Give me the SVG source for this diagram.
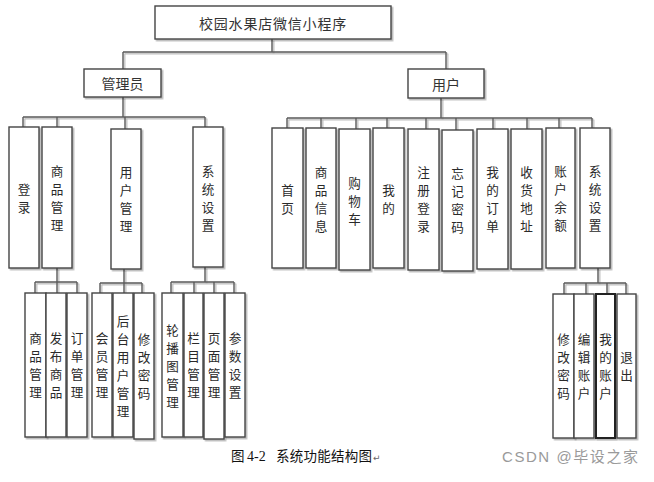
<svg xmlns="http://www.w3.org/2000/svg" width="654" height="482" viewBox="0 0 654 482">
<defs>
<filter id="sh" x="-20%" y="-20%" width="140%" height="140%">
<feDropShadow dx="1.6" dy="1.6" stdDeviation="0.6" flood-color="#000" flood-opacity="0.28"/>
</filter>
</defs>
<style>
.b{fill:#fff;stroke:#444;stroke-width:1.4;filter:url(#sh)}
.bd{fill:#fff;stroke:#222;stroke-width:2;filter:url(#sh)}
.t{font-family:"Noto Sans CJK SC","Noto Sans CJK JP",sans-serif;font-size:14px;fill:#333;text-anchor:middle;dominant-baseline:central}
.v{font-family:"Noto Sans CJK SC","Noto Sans CJK JP",sans-serif;font-size:12.6px;fill:#2a2a2a;text-anchor:middle;dominant-baseline:central}
#conn path{fill:none;stroke:#5a5a5a;stroke-width:1.4}
</style>
<rect width="654" height="482" fill="#fff"/>
<g id="conn" filter="url(#sh)">
<path d="M272 39V52M123 52H446M123 52V69M446 52V69"/>
<path d="M123 97V117M23 117H205M23 117V127M57 117V127M125 117V129M205 117V127"/>
<path d="M441 98V118M287 118H592M287 118V128M321 118V128M356 118V129M387 118V128M426 118V129M456 118V130M493 118V129M527 118V129M559 118V128M592 118V128"/>
<path d="M57 268V282M35 282H77M35 282V293M57 282V293M77 282V293"/>
<path d="M124 269V283M100 283H142M100 283V293M124 283V293M142 283V293"/>
<path d="M205 267V282M171 282H234M171 282V293M194 282V293M214 282V293M234 282V293"/>
<path d="M598 268V283M564 283H626M564 283V294M586 283V294M607 283V294M626 283V294"/>
</g>
<g id="root"><rect class="b" x="155" y="6" width="236" height="33"/><text class="t" x="273" y="22.5" letter-spacing="0.8">校园水果店微信小程序</text></g>
<g id="admin"><rect class="b" x="84" y="69" width="77" height="28"/><text class="t" x="122.5" y="83">管理员</text></g>
<g id="user"><rect class="b" x="408" y="69" width="76" height="29"/><text class="t" x="446" y="83.5">用户</text></g>

<g id="a-login"><rect class="b" x="9" y="127" width="30" height="141"/><text class="v"><tspan x="24" y="188.25">登</tspan><tspan x="24" y="206.25">录</tspan></text></g>
<g id="a-goods"><rect class="b" x="42" y="127" width="30" height="141"/><text class="v"><tspan x="57" y="170.25">商</tspan><tspan x="57" y="188.25">品</tspan><tspan x="57" y="206.25">管</tspan><tspan x="57" y="224.25">理</tspan></text></g>
<g id="a-users"><rect class="b" x="111" y="129" width="30" height="140"/><text class="v"><tspan x="126" y="171.25">用</tspan><tspan x="126" y="189.25">户</tspan><tspan x="126" y="207.25">管</tspan><tspan x="126" y="225.25">理</tspan></text></g>
<g id="a-sys"><rect class="b" x="193" y="127" width="30" height="140"/><text class="v"><tspan x="208" y="170.25">系</tspan><tspan x="208" y="188.25">统</tspan><tspan x="208" y="206.25">设</tspan><tspan x="208" y="224.25">置</tspan></text></g>

<g id="u-home"><rect class="b" x="272" y="128" width="31" height="140"/><text class="v"><tspan x="287.5" y="188.75">首</tspan><tspan x="287.5" y="206.75">页</tspan></text></g>
<g id="u-goods"><rect class="b" x="306" y="128" width="30" height="140"/><text class="v"><tspan x="321" y="171.25">商</tspan><tspan x="321" y="189.25">品</tspan><tspan x="321" y="207.25">信</tspan><tspan x="321" y="225.25">息</tspan></text></g>
<g id="u-cart"><rect class="b" x="339" y="129" width="31" height="141"/><text class="v"><tspan x="354.5" y="181.5">购</tspan><tspan x="354.5" y="199.5">物</tspan><tspan x="354.5" y="217.5">车</tspan></text></g>
<g id="u-mine"><rect class="b" x="373" y="128" width="31" height="140"/><text class="v"><tspan x="388.5" y="188.75">我</tspan><tspan x="388.5" y="206.75">的</tspan></text></g>
<g id="u-reg"><rect class="b" x="408" y="129" width="31" height="141"/><text class="v"><tspan x="423.5" y="171.25">注</tspan><tspan x="423.5" y="189.25">册</tspan><tspan x="423.5" y="207.25">登</tspan><tspan x="423.5" y="225.25">录</tspan></text></g>
<g id="u-forget"><rect class="b" x="442" y="130" width="31" height="141"/><text class="v"><tspan x="457.5" y="172.25">忘</tspan><tspan x="457.5" y="190.25">记</tspan><tspan x="457.5" y="208.25">密</tspan><tspan x="457.5" y="226.25">码</tspan></text></g>
<g id="u-orders"><rect class="b" x="477" y="129" width="31" height="140"/><text class="v"><tspan x="492.5" y="171.25">我</tspan><tspan x="492.5" y="189.25">的</tspan><tspan x="492.5" y="207.25">订</tspan><tspan x="492.5" y="225.25">单</tspan></text></g>
<g id="u-addr"><rect class="b" x="511" y="129" width="31" height="140"/><text class="v"><tspan x="526.5" y="171.25">收</tspan><tspan x="526.5" y="189.25">货</tspan><tspan x="526.5" y="207.25">地</tspan><tspan x="526.5" y="225.25">址</tspan></text></g>
<g id="u-balance"><rect class="b" x="546" y="128" width="29" height="140"/><text class="v"><tspan x="560.5" y="170.25">账</tspan><tspan x="560.5" y="188.25">户</tspan><tspan x="560.5" y="206.25">余</tspan><tspan x="560.5" y="224.25">额</tspan></text></g>
<g id="u-sys"><rect class="b" x="580" y="128" width="30" height="140"/><text class="v"><tspan x="595" y="170.25">系</tspan><tspan x="595" y="188.25">统</tspan><tspan x="595" y="206.25">设</tspan><tspan x="595" y="224.25">置</tspan></text></g>

<g id="g-manage"><rect class="b" x="25" y="293" width="21" height="144"/><text class="v"><tspan x="35.5" y="337.25">商</tspan><tspan x="35.5" y="355.25">品</tspan><tspan x="35.5" y="373.25">管</tspan><tspan x="35.5" y="391.25">理</tspan></text></g>
<g id="g-publish"><rect class="b" x="46" y="293" width="20" height="144"/><text class="v"><tspan x="56" y="337.25">发</tspan><tspan x="56" y="355.25">布</tspan><tspan x="56" y="373.25">商</tspan><tspan x="56" y="391.25">品</tspan></text></g>
<g id="g-order"><rect class="b" x="67" y="293" width="20" height="144"/><text class="v"><tspan x="77" y="337.25">订</tspan><tspan x="77" y="355.25">单</tspan><tspan x="77" y="373.25">管</tspan><tspan x="77" y="391.25">理</tspan></text></g>

<g id="m-member"><rect class="b" x="92" y="293" width="20" height="144"/><text class="v"><tspan x="102" y="337.25">会</tspan><tspan x="102" y="355.25">员</tspan><tspan x="102" y="373.25">管</tspan><tspan x="102" y="391.25">理</tspan></text></g>
<g id="m-admin"><rect class="b" x="113" y="293" width="20" height="144"/><text class="v"><tspan x="123" y="319.75">后</tspan><tspan x="123" y="337.75">台</tspan><tspan x="123" y="355.75">用</tspan><tspan x="123" y="373.75">户</tspan><tspan x="123" y="391.75">管</tspan><tspan x="123" y="409.75">理</tspan></text></g>
<g id="m-pwd"><rect class="b" x="134" y="293" width="20" height="146"/><text class="v"><tspan x="144" y="338.25">修</tspan><tspan x="144" y="356.25">改</tspan><tspan x="144" y="374.25">密</tspan><tspan x="144" y="392.25">码</tspan></text></g>

<g id="s-banner"><rect class="b" x="162" y="293" width="21" height="144"/><text class="v"><tspan x="172.5" y="329">轮</tspan><tspan x="172.5" y="347">播</tspan><tspan x="172.5" y="365">图</tspan><tspan x="172.5" y="383">管</tspan><tspan x="172.5" y="401">理</tspan></text></g>
<g id="s-column"><rect class="b" x="184" y="293" width="19" height="144"/><text class="v"><tspan x="193.5" y="337.25">栏</tspan><tspan x="193.5" y="355.25">目</tspan><tspan x="193.5" y="373.25">管</tspan><tspan x="193.5" y="391.25">理</tspan></text></g>
<g id="s-page"><rect class="b" x="204" y="293" width="20" height="146"/><text class="v"><tspan x="214" y="337.25">页</tspan><tspan x="214" y="355.25">面</tspan><tspan x="214" y="373.25">管</tspan><tspan x="214" y="391.25">理</tspan></text></g>
<g id="s-param"><rect class="b" x="225" y="293" width="20" height="144"/><text class="v"><tspan x="235" y="337.25">参</tspan><tspan x="235" y="355.25">数</tspan><tspan x="235" y="373.25">设</tspan><tspan x="235" y="391.25">置</tspan></text></g>

<g id="x-pwd"><rect class="b" x="553" y="294" width="21" height="144"/><text class="v"><tspan x="563.5" y="338.25">修</tspan><tspan x="563.5" y="356.25">改</tspan><tspan x="563.5" y="374.25">密</tspan><tspan x="563.5" y="392.25">码</tspan></text></g>
<g id="x-edit"><rect class="b" x="574" y="294" width="20" height="144"/><text class="v"><tspan x="584" y="338.25">编</tspan><tspan x="584" y="356.25">辑</tspan><tspan x="584" y="374.25">账</tspan><tspan x="584" y="392.25">户</tspan></text></g>
<g id="x-account"><rect class="bd" x="596" y="294" width="19" height="144"/><text class="v"><tspan x="605.5" y="338.25">我</tspan><tspan x="605.5" y="356.25">的</tspan><tspan x="605.5" y="374.25">账</tspan><tspan x="605.5" y="392.25">户</tspan></text></g>
<g id="x-exit"><rect class="b" x="617" y="294" width="19" height="144"/><text class="v"><tspan x="626.5" y="355.75">退</tspan><tspan x="626.5" y="373.75">出</tspan></text></g>

<g id="caption" font-size="13.5" fill="#111">
<text x="231" y="461" font-family="Noto Sans CJK SC, sans-serif">图</text>
<text x="247" y="461" font-family="Liberation Serif, serif" font-size="14">4-2</text>
<text x="276" y="461" font-family="Noto Sans CJK SC, sans-serif" textLength="96">系统功能结构图</text>
<text x="373" y="461" font-family="DejaVu Sans, sans-serif" font-size="9" fill="#666">↵</text>
</g>
<text x="502" y="462" font-family="Liberation Sans, Noto Sans CJK SC, sans-serif" font-size="15" fill="#9a9a9a" textLength="136">CSDN @毕设之家</text>
</svg>
